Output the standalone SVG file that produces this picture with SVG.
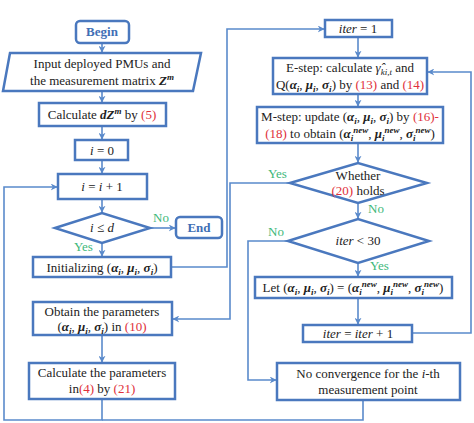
<svg xmlns="http://www.w3.org/2000/svg" width="474" height="423" viewBox="0 0 474 423">
<defs>
<style>
.box{fill:#fff;stroke:#4A78BE;stroke-width:2.5}
.t{font-family:"Liberation Serif",serif;font-size:13px;fill:#222;text-anchor:middle}
.hb{font-family:"Liberation Serif",serif;font-size:13px;font-weight:bold;fill:#3F6FB5;text-anchor:middle}
.m{font-style:italic}
.b{font-weight:bold;font-style:italic}
.r{fill:#E0303A}
.g{fill:#3DB87A;font-family:"Liberation Serif",serif;font-size:13px}
.c{fill:none;stroke:#5A8ACB;stroke-width:1.6}
.s{font-size:9px}
</style>
<marker id="a" viewBox="0 0 10 10" refX="9" refY="5" markerWidth="7" markerHeight="7" orient="auto" markerUnits="userSpaceOnUse">
<path d="M0,0 L10,5 L0,10 L3,5 z" fill="#5A8ACB"/>
</marker>
</defs>
<rect width="474" height="423" fill="#fff"/>

<g id="connectors">
<path class="c" d="M102,43 V52" marker-end="url(#a)"/>
<path class="c" d="M102,91 V102" marker-end="url(#a)"/>
<path class="c" d="M102,126 V139" marker-end="url(#a)"/>
<path class="c" d="M102,160 V173" marker-end="url(#a)"/>
<path class="c" d="M102,199 V212" marker-end="url(#a)"/>
<path class="c" d="M102,243 V256" marker-end="url(#a)"/>
<path class="c" d="M150,228 H175" marker-end="url(#a)"/>
<path class="c" d="M102,335 V362" marker-end="url(#a)"/>
<path class="c" d="M171,267 H227 V29 H324" marker-end="url(#a)"/>
<path class="c" d="M290,183 H230 V319 H173" marker-end="url(#a)"/>
<path class="c" d="M102,399 V420 H4 V187 H57" marker-end="url(#a)"/>
<path class="c" d="M363,400 V420 H102"/>
<path class="c" d="M358,37 V57" marker-end="url(#a)"/>
<path class="c" d="M358,94 V106" marker-end="url(#a)"/>
<path class="c" d="M358,143 V162" marker-end="url(#a)"/>
<path class="c" d="M358,203 V218" marker-end="url(#a)"/>
<path class="c" d="M358,263 V276" marker-end="url(#a)"/>
<path class="c" d="M358,298 V324" marker-end="url(#a)"/>
<path class="c" d="M288,241 H248 V380 H276" marker-end="url(#a)"/>
<path class="c" d="M412,333 H471 V72 H428" marker-end="url(#a)"/>
<text class="g" x="153" y="222">No</text>
<text class="g" x="74" y="251">Yes</text>
<text class="g" x="268" y="178">Yes</text>
<text class="g" x="368" y="213">No</text>
<text class="g" x="268" y="236">No</text>
<text class="g" x="370" y="270">Yes</text>
</g>

<g id="begin">
<rect class="box" x="76" y="21" width="53" height="22" rx="4"/>
<text class="hb" x="102" y="36">Begin</text>
</g>
<g id="input">
<polygon class="box" points="10,53 201,53 193,91 3,91"/>
<text class="t" x="102" y="68">Input deployed PMUs and</text>
<text class="t" x="102" y="85">the measurement matrix <tspan class="b">Z</tspan><tspan class="b s" dy="-5">m</tspan></text>
</g>
<g id="calc">
<rect class="box" x="39" y="103" width="127" height="23"/>
<text class="t" x="102" y="119">Calculate <tspan class="b">dZ</tspan><tspan class="b s" dy="-5">m</tspan><tspan dy="5"> by </tspan><tspan class="r">(5)</tspan></text>
</g>
<g id="i0">
<rect class="box" x="75" y="140" width="53" height="20"/>
<text class="t" x="102" y="155"><tspan class="m">i</tspan> = 0</text>
</g>
<g id="inc">
<rect class="box" x="58" y="174" width="89" height="25"/>
<text class="t" x="102" y="191"><tspan class="m">i</tspan> = <tspan class="m">i</tspan> + 1</text>
</g>
<g id="dec">
<polygon class="box" points="55,228 102,213 150,228 102,243"/>
<text class="t" x="102" y="232"><tspan class="m">i</tspan> ≤ <tspan class="m">d</tspan></text>
</g>
<g id="end">
<rect class="box" x="176" y="217" width="46" height="21" rx="4"/>
<text class="hb" x="199" y="232">End</text>
</g>
<g id="init">
<rect class="box" x="33" y="257" width="138" height="20"/>
<text class="t" x="102" y="272">Initializing (<tspan class="b">α</tspan><tspan class="b s" dy="3">i</tspan><tspan dy="-3">, </tspan><tspan class="b">μ</tspan><tspan class="b s" dy="3">i</tspan><tspan dy="-3">, </tspan><tspan class="b">σ</tspan><tspan class="b s" dy="3">i</tspan><tspan dy="-3">)</tspan></text>
</g>
<g id="obtain">
<rect class="box" x="33" y="302" width="139" height="33"/>
<text class="t" x="102" y="316">Obtain the parameters</text>
<text class="t" x="102" y="331">(<tspan class="b">α</tspan><tspan class="b s" dy="3">i</tspan><tspan dy="-3">, </tspan><tspan class="b">μ</tspan><tspan class="b s" dy="3">i</tspan><tspan dy="-3">, </tspan><tspan class="b">σ</tspan><tspan class="b s" dy="3">i</tspan><tspan dy="-3">) in </tspan><tspan class="r">(10)</tspan></text>
</g>
<g id="calcp">
<rect class="box" x="29" y="363" width="146" height="36"/>
<text class="t" x="102" y="377">Calculate the parameters</text>
<text class="t" x="102" y="393">in<tspan class="r">(4)</tspan> by <tspan class="r">(21)</tspan></text>
</g>
<g id="iter1">
<rect class="box" x="325" y="20" width="67" height="17"/>
<text class="t" x="358" y="33"><tspan class="m">iter</tspan> = 1</text>
</g>
<g id="estep">
<rect class="box" x="273" y="58" width="154" height="36"/>
<text class="t" x="350" y="72">E-step: calculate <tspan class="m">γ̂</tspan><tspan class="m s" dy="3">ki,t</tspan><tspan dy="-3"> and</tspan></text>
<text class="t" x="350" y="89">Q(<tspan class="b">α</tspan><tspan class="b s" dy="3">i</tspan><tspan dy="-3">, </tspan><tspan class="b">μ</tspan><tspan class="b s" dy="3">i</tspan><tspan dy="-3">, </tspan><tspan class="b">σ</tspan><tspan class="b s" dy="3">i</tspan><tspan dy="-3">) by </tspan><tspan class="r">(13)</tspan> and <tspan class="r">(14)</tspan></text>
</g>
<g id="mstep">
<rect class="box" x="257" y="107" width="186" height="36"/>
<text class="t" x="350" y="121">M-step: update (<tspan class="b">α</tspan><tspan class="b s" dy="3">i</tspan><tspan dy="-3">, </tspan><tspan class="b">μ</tspan><tspan class="b s" dy="3">i</tspan><tspan dy="-3">, </tspan><tspan class="b">σ</tspan><tspan class="b s" dy="3">i</tspan><tspan dy="-3">) by </tspan><tspan class="r">(16)-</tspan></text>
<text class="t" x="350" y="138"><tspan class="r">(18)</tspan> to obtain (<tspan class="b">α</tspan><tspan class="b s" dy="3">i</tspan><tspan class="b s" dy="-8">new</tspan><tspan dy="5">, </tspan><tspan class="b">μ</tspan><tspan class="b s" dy="3">i</tspan><tspan class="b s" dy="-8">new</tspan><tspan dy="5">, </tspan><tspan class="b">σ</tspan><tspan class="b s" dy="3">i</tspan><tspan class="b s" dy="-8">new</tspan><tspan dy="5">)</tspan></text>
</g>
<g id="whether">
<polygon class="box" points="290,183 358,163 427,183 358,203"/>
<text class="t" x="358" y="180">Whether</text>
<text class="t" x="358" y="195"><tspan class="r">(20)</tspan> holds</text>
</g>
<g id="lt30">
<polygon class="box" points="288,241 358,219 429,241 358,263"/>
<text class="t" x="358" y="245"><tspan class="m">iter</tspan> &lt; 30</text>
</g>
<g id="let">
<rect class="box" x="255" y="277" width="197" height="21"/>
<text class="t" x="353" y="292">Let (<tspan class="b">α</tspan><tspan class="b s" dy="3">i</tspan><tspan dy="-3">, </tspan><tspan class="b">μ</tspan><tspan class="b s" dy="3">i</tspan><tspan dy="-3">, </tspan><tspan class="b">σ</tspan><tspan class="b s" dy="3">i</tspan><tspan dy="-3">) = (</tspan><tspan class="b">α</tspan><tspan class="b s" dy="3">i</tspan><tspan class="b s" dy="-8">new</tspan><tspan dy="5">, </tspan><tspan class="b">μ</tspan><tspan class="b s" dy="3">i</tspan><tspan class="b s" dy="-8">new</tspan><tspan dy="5">, </tspan><tspan class="b">σ</tspan><tspan class="b s" dy="3">i</tspan><tspan class="b s" dy="-8">new</tspan><tspan dy="5">)</tspan></text>
</g>
<g id="iterinc">
<rect class="box" x="303" y="325" width="109" height="17"/>
<text class="t" x="358" y="338"><tspan class="m">iter</tspan> = <tspan class="m">iter</tspan> + 1</text>
</g>
<g id="noconv">
<rect class="box" x="277" y="363" width="183" height="37"/>
<text class="t" x="368" y="378">No convergence for the <tspan class="m">i</tspan>-th</text>
<text class="t" x="368" y="394">measurement point</text>
</g>
</svg>
